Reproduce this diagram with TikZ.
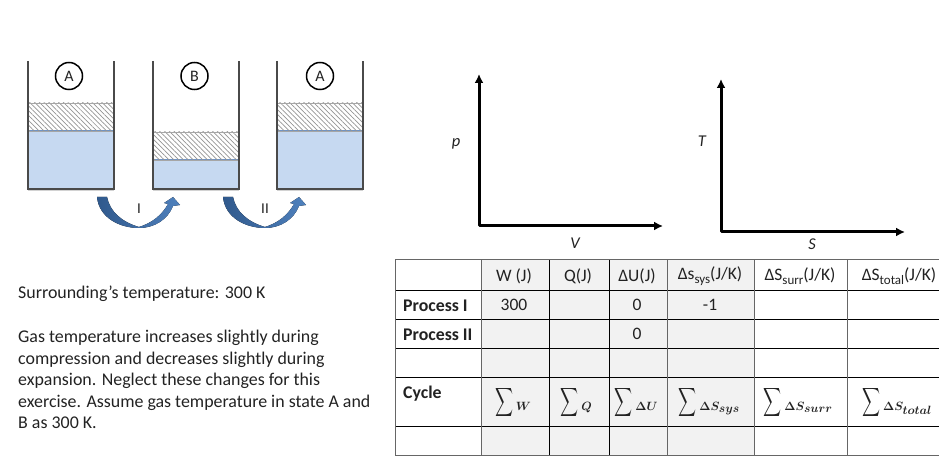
\documentclass[tikz,border=0pt]{standalone}
\usepackage{fontspec}
\setmainfont{Carlito}
\usetikzlibrary{arrows.meta, positioning, patterns.meta}
\definecolor{gasfill}{HTML}{C6D9F1}
\definecolor{gasline}{HTML}{6F94C6}
\definecolor{wall}{HTML}{4A4A4A}
\definecolor{inktext}{HTML}{222222}
\definecolor{cellgray}{HTML}{F2F2F2}
\definecolor{bendleft}{HTML}{30598C}
\definecolor{bendright}{HTML}{4F81BD}
\tikzset{
  >={Latex[length=9pt, width=9pt]},
  every node/.style={text=inktext, font=\fontsize{17.9}{21.5}\selectfont},
  gas/.style={fill=gasfill, draw=gasline, line width=1pt},
  piston/.style={pattern={Lines[angle=135, distance=3.4pt, line width=.7pt]}, pattern color=gray!85, draw=gray!70, line width=.5pt},
  walls/.style={draw=wall, line width=1.2pt},
  statelabel/.style={circle, draw=black, line width=1.5pt, minimum size=27pt, inner sep=0pt, font=\fontsize{16}{18}\selectfont},
  axis/.style={<->, line width=3pt, black, line join=round},
  axislabel/.style={font=\fontsize{16.5}{18}\selectfont\itshape},
  cell/.style={inner sep=0pt, anchor=center, font=\fontsize{17.5}{21}\selectfont},
  rowlabel/.style={inner sep=0pt, anchor=west, font=\fontsize{17.8}{21}\selectfont\bfseries},
  grid/.style={line width=.7pt, black},
  gridheavy/.style={line width=1pt, black!60},
}
\newcommand{\lowsub}[1]{\raisebox{-.4ex}{\fontsize{13}{15}\selectfont #1}}
\newcommand{\sumcell}[1]{\scalebox{1.25}[2]{$\displaystyle\sum$}\,{\fontsize{12}{14}\selectfont\boldmath$#1$}}

\begin{document}
\begin{tikzpicture}[x=1pt, y=-1pt]
	\useasboundingbox (0,0) rectangle (939,462);

	% cylinders
	\foreach \xa/\ya in {28/103, 153/132, 277/103} {
		\pgfmathsetmacro{\xb}{\xa+86}
		\pgfmathsetmacro{\yb}{\ya+28}
		\fill[gray!35] (\xa,190) rectangle (\xb,191.5);
		\draw[gas] (\xa,\yb) rectangle (\xb,189);
		\draw[piston] (\xa,\ya) rectangle (\xb,\yb);
		\draw[walls] (\xa,61) -- (\xa,189) -- (\xb,189) -- (\xb,61);
	}

	% states
	\node[statelabel] (a1) at (69,76) {A};
	\node[statelabel, right=97pt of a1] (b1) {B};
	\node[statelabel, right=97pt of b1] (a2) {A};

	% process arrows
	\foreach \dx/\name/\lab in {0/one/I, 126/two/II} {
		\begin{scope}[xshift=\dx pt]
			\fill[left color=bendleft, right color=bendright] (97,197)
				.. controls (99,218) and (120,228) .. (139,228)
				.. controls (155,228) and (168,219) .. (173,206)
				-- (180,205) -- (173,197) -- (164,203) -- (168,204)
				.. controls (162,215) and (152,223) .. (139,227)
				.. controls (122,222) and (110,212) .. (107,197) -- cycle;
			\node[inner sep=0pt, font=\fontsize{15}{17}\selectfont] (\name) at (139,209) {\lab};
		\end{scope}
	}

	% text
	\node[inner sep=0pt, anchor=west] (surr) at (18,294) {Surrounding's temperature: 300 K};
	\node[inner sep=0pt, anchor=north west, align=left] (note) at (18,330) {Gas temperature increases slightly during\\
		compression and decreases slightly during\\
		expansion. Neglect these changes for this\\
		exercise. Assume gas temperature in state A and\\
		B as 300 K.};

	% axes
	\coordinate (pv0) at (479,226);
	\coordinate (pvy) at (479,74);
	\coordinate (pvx) at (663,226);
	\coordinate (ts0) at (721,232);
	\coordinate (tsy) at (721,79);
	\coordinate (tsx) at (905,232);
	\draw[axis] (pvy) -- (pv0) -- (pvx);
	\draw[axis] (tsy) -- (ts0) -- (tsx);
	\node[axislabel] (plab) at (456,144) {p};
	\node[axislabel] (vlab) at (575,243) {V};
	\node[axislabel] (tlab) at (702,141) {T};
	\node[axislabel] (slab) at (812,244) {S};

	% table
	\fill[cellgray] (481,260) rectangle (754,455);
	\foreach \y in {290, 319, 348, 377, 426}
		\draw[grid] (395,\y) -- (939,\y);
	\foreach \x in {549, 609}
		\draw[grid] (\x,260) -- (\x,455);
	\foreach \x in {395, 481, 667, 754, 847}
		\draw[gridheavy] (\x,260) -- (\x,455);
	\draw[gridheavy] (395,260) -- (939,260);
	\draw[gridheavy] (395,455) -- (939,455);

	% header row
	\node[cell] (hw) at (514,276) {W (J)};
	\node[cell] (hq) at (578,276) {Q(J)};
	\node[cell] (hu) at (637,276) {ΔU(J)};
	\node[cell] (hs) at (710,276) {Δs\lowsub{sys}(J/K)};
	\node[cell] (hsurr) at (800,276) {ΔS\lowsub{surr}(J/K)};
	\node[cell] (htot) at (899,276) {ΔS\lowsub{total}(J/K)};

	% rows
	\node[rowlabel] (r1) at (403,306) {Process I};
	\node[rowlabel] (r2) at (403,335) {Process II};
	\node[rowlabel] (r3) at (403,394) {Cycle};
	\node[cell] (w1) at (514,305) {300};
	\node[cell] (u1) at (637,305) {0};
	\node[cell] (s1) at (710,305) {-1};
	\node[cell] (u2) at (637,334) {0};

	% sums
	\node[cell] (sw) at (513,402) {\sumcell{W}};
	\node[cell] (sq) at (576,402) {\sumcell{Q}};
	\node[cell] (su) at (636,402) {\sumcell{\Delta U}};
	\node[cell] (ss) at (709,402) {\sumcell{\Delta S_{\textstyle sys}}};
	\node[cell] (ssurr) at (798,402) {\sumcell{\Delta S_{\textstyle surr}}};
	\node[cell] (stot) at (897,402) {\sumcell{\Delta S_{\textstyle total}}};
\end{tikzpicture}
\end{document}
